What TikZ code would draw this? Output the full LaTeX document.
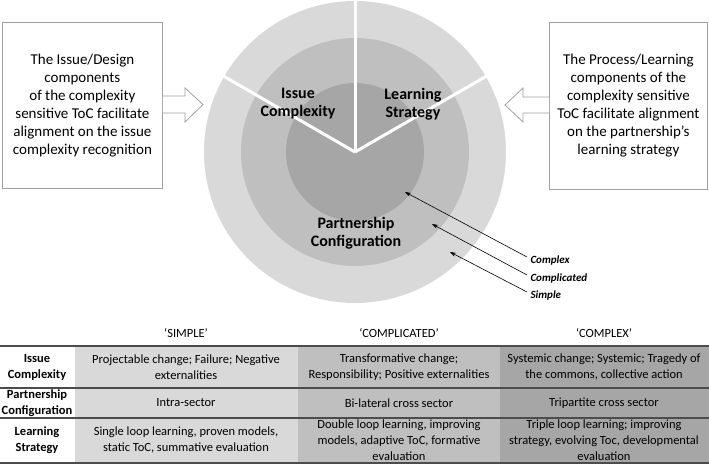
\documentclass[tikz,border=0pt]{standalone}
\usepackage{fontspec}
\setmainfont{Carlito}
\usetikzlibrary{shapes.arrows,arrows.meta}
\definecolor{c1}{HTML}{D9D9D9}
\definecolor{c2}{HTML}{BFBFBF}
\definecolor{c3}{HTML}{A6A6A6}
\definecolor{bd}{HTML}{A0A0A0}
\begin{document}
\begin{tikzpicture}[x=1pt,y=-1pt,
  sidebox/.style={draw=bd,line width=0.8pt,fill=white},
  sidetxt/.style={align=center,font=\fontsize{15}{18}\selectfont},
  ctxt/.style={align=center,font=\fontsize{16}{18}\selectfont\bfseries},
  ttxt/.style={align=center,font=\fontsize{12.5}{16}\selectfont},
  ltxt/.style={align=center,font=\fontsize{12.5}{16}\selectfont\bfseries},
  itxt/.style={anchor=west,font=\fontsize{11}{13}\selectfont\bfseries\itshape},
  rule/.style={draw=black!70,line width=1.5pt}]
\useasboundingbox (0,0) rectangle (709,466);
% circles
\coordinate (c) at (355,152);
\fill[c1] (c) circle (151);
\fill[c2] (c) circle (114);
\fill[c3] (c) circle (69);
\draw[white,line width=3pt] (c) -- ++(0,-152);
\draw[white,line width=3pt] (c) -- ++(210:152);
\draw[white,line width=3pt] (c) -- ++(-30:152);
% in y-down coords, angles flipped: fix by explicit points
\node[ctxt] (ic) at (298,104) {Issue\\Complexity};
\node[ctxt] (ls) at (413,104) {Learning\\Strategy};
\node[ctxt] (pc) at (356,233) {Partnership\\Configuration};
% side boxes
\node[sidebox,minimum width=160,minimum height=166,anchor=north west] (lb) at (2,22) {};
\node[sidetxt] at (lb.center) {The Issue/Design\\components\\of the complexity\\sensitive ToC facilitate\\alignment on the issue\\complexity recognition};
\node[sidebox,minimum width=158,minimum height=167,anchor=north west] (rb) at (549,22) {};
\node[sidetxt] at (rb.center) {The Process/Learning\\components of the\\complexity sensitive\\ToC facilitate alignment\\on the partnership’s\\learning strategy};
\draw[bd,fill=white,line width=0.8pt] (lb.east|-0,96) -- (185,96) -- (185,88) -- (203,104.5) -- (185,122) -- (185,113) -- (lb.east|-0,113);
\draw[bd,fill=white,line width=0.8pt] (rb.west|-0,97) -- (523,97) -- (523,88) -- (505,105) -- (523,122) -- (523,113) -- (rb.west|-0,113);
% labels with arrows
\node[itxt] (cx) at (527,261) {Complex};
\node[itxt] (cd) at (527,279) {Complicated};
\node[itxt] (sp) at (527,296) {Simple};
\coordinate (a1) at (405,192);
\coordinate (a2) at (432,224);
\coordinate (a3) at (450,252);
\draw[-{Stealth[length=6pt,width=4pt]},line width=0.6pt] (cx.west) ++(0,-4) -- (a1);
\draw[-{Stealth[length=6pt,width=4pt]},line width=0.6pt] (cd.west) ++(0,-4) -- (a2);
\draw[-{Stealth[length=6pt,width=4pt]},line width=0.6pt] (sp.west) ++(0,-4) -- (a3);
% table
\fill[c1] (75,346) rectangle (298,463);
\fill[c2] (298,346) rectangle (500,463);
\fill[c3] (500,346) rectangle (709,463);
\draw[rule] (0,346) -- (709,346);
\draw[rule] (0,388) -- (709,388);
\draw[rule] (0,418) -- (709,418);
\draw[rule] (0,463) -- (709,463);
\node[ttxt] (h1) at (186,333) {‘SIMPLE’};
\node[ttxt] (h2) at (399,333) {‘COMPLICATED’};
\node[ttxt] (h3) at (604,333) {‘COMPLEX’};
\node[ltxt] (r1) at (37,367) {Issue\\Complexity};
\node[ltxt] (r2) at (37,403) {Partnership\\Configuration};
\node[ltxt] (r3) at (37,440) {Learning\\Strategy};
\node[ttxt] at (186,367) {Projectable change; Failure; Negative\\externalities};
\node[ttxt] at (399,367) {Transformative change;\\Responsibility; Positive externalities};
\node[ttxt] at (604,367) {Systemic change; Systemic; Tragedy of\\the commons, collective action};
\node[ttxt] at (186,403) {Intra-sector};
\node[ttxt] at (399,403) {Bi-lateral cross sector};
\node[ttxt] at (604,403) {Tripartite cross sector};
\node[ttxt] at (186,440) {Single loop learning, proven models,\\static ToC, summative evaluation};
\node[ttxt] at (399,440) {Double loop learning, improving\\models, adaptive ToC, formative\\evaluation};
\node[ttxt] at (604,440) {Triple loop learning; improving\\strategy, evolving Toc, developmental\\evaluation};
\end{tikzpicture}
\end{document}
